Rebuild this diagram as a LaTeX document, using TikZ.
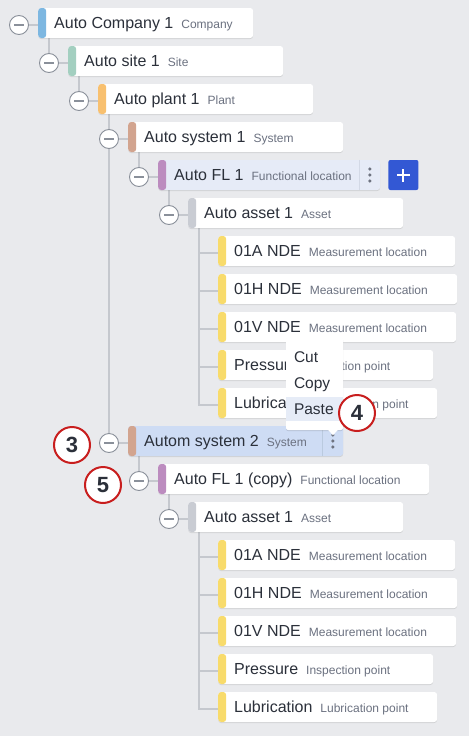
\documentclass[tikz,border=0pt]{standalone}
\usepackage{fontspec}
\setmainfont{Liberation Sans}
\usetikzlibrary{shadows,calc}
\pgfdeclarelayer{bgl}
\pgfsetlayers{bgl,main}
\definecolor{bg}{HTML}{E9EAED}
\definecolor{cCompany}{HTML}{7DB7E1}
\definecolor{cSite}{HTML}{A3CFC0}
\definecolor{cPlant}{HTML}{F8C06F}
\definecolor{cSystem}{HTML}{D2A48F}
\definecolor{cFL}{HTML}{BC8CBF}
\definecolor{cAsset}{HTML}{C9CCD3}
\definecolor{cMeas}{HTML}{F8DB6B}
\definecolor{txt}{HTML}{2B303A}
\definecolor{lbl}{HTML}{6B7180}
\definecolor{wire}{HTML}{C5C8CE}
\definecolor{ring}{HTML}{8A909A}
\definecolor{hlFL}{HTML}{E6EBF7}
\definecolor{hlSys}{HTML}{CEDCF4}
\definecolor{sepFL}{HTML}{D3D9E6}
\definecolor{sepSys}{HTML}{BACADF}
\definecolor{btnblue}{HTML}{3358D4}
\definecolor{callred}{HTML}{C81E1E}
\definecolor{menuhl}{HTML}{E6ECF7}
\definecolor{dotc}{HTML}{6E7380}

\newcommand{\lbltxt}[1]{{\fontsize{12pt}{14pt}\selectfont\color{lbl}#1}}
% optional fill, name, L, y, R, bar colour, main text, label
\newcommand{\cardrow}[8][white]{%
  \node[card=#6, fill=#1] (#2) at (#3,#4)
    {\makebox[\dimexpr#5pt-#3pt\relax][l]{\hspace*{16pt}#7\hspace{8pt}\lbltxt{#8}}};}

\tikzset{
  card/.style={rectangle, rounded corners=3pt, inner sep=0pt,
    minimum height=30pt, text height=12pt, text depth=2pt, anchor=west,
    font=\fontsize{16pt}{19pt}\selectfont, text=txt,
    drop shadow={shadow xshift=0pt, shadow yshift=-1pt, opacity=0.10, fill=black},
    path picture={\fill[#1] (path picture bounding box.south west)
      rectangle ([xshift=8pt]path picture bounding box.north west);}},
  tgl/.style={circle, minimum size=19pt, inner sep=0pt, draw=ring, fill=white,
    line width=0.9pt,
    path picture={\draw[ring, line width=1.3pt]
      ([xshift=-4.6pt]path picture bounding box.center) --
      ([xshift=4.6pt]path picture bounding box.center);}},
  wire/.style={draw=wire, line width=1.5pt},
  addbtn/.style={rectangle, rounded corners=2pt, minimum size=30pt, inner sep=0pt,
    fill=btnblue,
    path picture={\draw[white, line width=2pt]
      ([xshift=-6.5pt]path picture bounding box.center) --
      ([xshift=6.5pt]path picture bounding box.center)
      ([yshift=-6.5pt]path picture bounding box.center) --
      ([yshift=6.5pt]path picture bounding box.center);}},
  menubox/.style={rectangle, rounded corners=2pt, fill=white, inner sep=0pt,
    minimum width=57pt, minimum height=93pt,
    drop shadow={shadow xshift=0pt, shadow yshift=-1pt, opacity=0.12, fill=black}},
  menuitem/.style={anchor=west, inner sep=0pt, text height=11pt, text depth=0pt,
    font=\fontsize{15.5pt}{18pt}\selectfont, text=txt},
  pastehl/.style={rectangle, fill=menuhl, inner sep=0pt, minimum width=57pt,
    minimum height=24pt},
  callout/.style={circle, draw=callred, line width=2pt, fill=white,
    minimum size=36pt, inner sep=0pt, text=txt,
    font=\bfseries\fontsize{22pt}{24pt}\selectfont},
}

\begin{document}
\begin{tikzpicture}[x=1pt, y=-1pt]
\begin{pgfonlayer}{bgl}
  \fill[bg] (0,0) rectangle (469,736);
\end{pgfonlayer}
\useasboundingbox (0,0) rectangle (469,736);

% ---------- cards ----------
\cardrow{company}{38}{23}{253}{cCompany}{Auto Company 1}{Company}
\cardrow{site}{68}{61}{283}{cSite}{Auto site 1}{Site}
\cardrow{plant}{98}{99}{313}{cPlant}{Auto plant 1}{Plant}
\cardrow{sysA}{128}{137}{343}{cSystem}{Auto system 1}{System}
\cardrow[hlFL]{flA}{158}{175}{380}{cFL}{Auto FL 1}{Functional location}
\cardrow{assetA}{188}{213}{403}{cAsset}{Auto asset 1}{Asset}
\cardrow{mA1}{218}{251}{455}{cMeas}{01A NDE}{Measurement location}
\cardrow{mA2}{218}{289}{457}{cMeas}{01H NDE}{Measurement location}
\cardrow{mA3}{218}{327}{456}{cMeas}{01V NDE}{Measurement location}
\cardrow{mA4}{218}{365}{433}{cMeas}{Pressure}{Inspection point}
\cardrow{mA5}{218}{403}{437}{cMeas}{Lubrication}{Lubrication point}
\cardrow[hlSys]{sysB}{128}{441}{343}{cSystem}{Autom system 2}{System}
\cardrow{flB}{158}{479}{429}{cFL}{Auto FL 1 (copy)}{Functional location}
\cardrow{assetB}{188}{517}{403}{cAsset}{Auto asset 1}{Asset}
\cardrow{mB1}{218}{555}{455}{cMeas}{01A NDE}{Measurement location}
\cardrow{mB2}{218}{593}{457}{cMeas}{01H NDE}{Measurement location}
\cardrow{mB3}{218}{631}{456}{cMeas}{01V NDE}{Measurement location}
\cardrow{mB4}{218}{669}{433}{cMeas}{Pressure}{Inspection point}
\cardrow{mB5}{218}{707}{437}{cMeas}{Lubrication}{Lubrication point}

% ---------- toggles ----------
\foreach \n in {company,site,plant,sysA,flA,assetA,sysB,flB,assetB}{
  \node[tgl] (\n-t) at ($(\n.west)+(-19,2)$) {};
}

% ---------- dots sections ----------
\draw[sepFL, line width=1pt] ([xshift=-21pt]flA.north east) -- ([xshift=-21pt]flA.south east);
\foreach \d in {-6,0,6}
  \fill[dotc] ($(flA.east)+(-10.5,\d)$) circle (1.8pt);
\draw[sepSys, line width=1pt] ([xshift=-21pt]sysB.north east) -- ([xshift=-21pt]sysB.south east);
\foreach \d in {-6,0,6}
  \fill[dotc] ($(sysB.east)+(-10.5,\d)$) circle (1.8pt);

\node[addbtn] (add) at ($(flA.east)+(23,0)$) {};

% ---------- connectors ----------
\begin{pgfonlayer}{bgl}
  \foreach \n in {company,site,plant,sysA,flA,assetA,sysB,flB,assetB}{
    \draw[wire] (\n-t.east) -- (\n-t.east -| \n.west);
  }
  \draw[wire] (site-t |- company.south) -- (site-t.north);
  \draw[wire] (plant-t |- site.south) -- (plant-t.north);
  \draw[wire] (sysB-t |- plant.south) -- (sysB-t.north);
  \draw[wire] (flA-t |- sysA.south) -- (flA-t.north);
  \draw[wire] (assetA-t |- flA.south) -- (assetA-t.north);
  \draw[wire] (flB-t |- sysB.south) -- (flB-t.north);
  \draw[wire] (assetB-t |- flB.south) -- (assetB-t.north);
  \coordinate (trunkA) at ($(mA1.west)+(-19,0)$);
  \coordinate (trunkB) at ($(mB1.west)+(-19,0)$);
  \foreach \m in {mA1,mA2,mA3,mA4,mA5}
    \draw[wire] ($(\m.west)+(0,2)$) -| (trunkA |- assetA.south);
  \foreach \m in {mB1,mB2,mB3,mB4,mB5}
    \draw[wire] ($(\m.west)+(0,2)$) -| (trunkB |- assetB.south);
\end{pgfonlayer}

% ---------- context menu ----------
\node[menubox] (menu) at (314.5,383.5) {};
\node[pastehl] (pastebar) at ($(menu.south)+(0,-21.5)$) {};
\fill[white] ($(menu.south)+(13.5,-0.5)$) -- ($(menu.south)+(18.5,5)$) -- ($(menu.south)+(23.5,-0.5)$) -- cycle;
\node[menuitem] (cut) at ($(menu.west)+(8,-26.5)$) {Cut};
\node[menuitem] (copy) at ($(menu.west)+(8,-0.5)$) {Copy};
\node[menuitem] (paste) at ($(menu.west)+(8,25)$) {Paste};

% ---------- callouts ----------
\node[callout] (c3) at (72,445) {3};
\node[callout] (c4) at (357,413) {4};
\node[callout] (c5) at (103,485) {5};
\end{tikzpicture}
\end{document}
